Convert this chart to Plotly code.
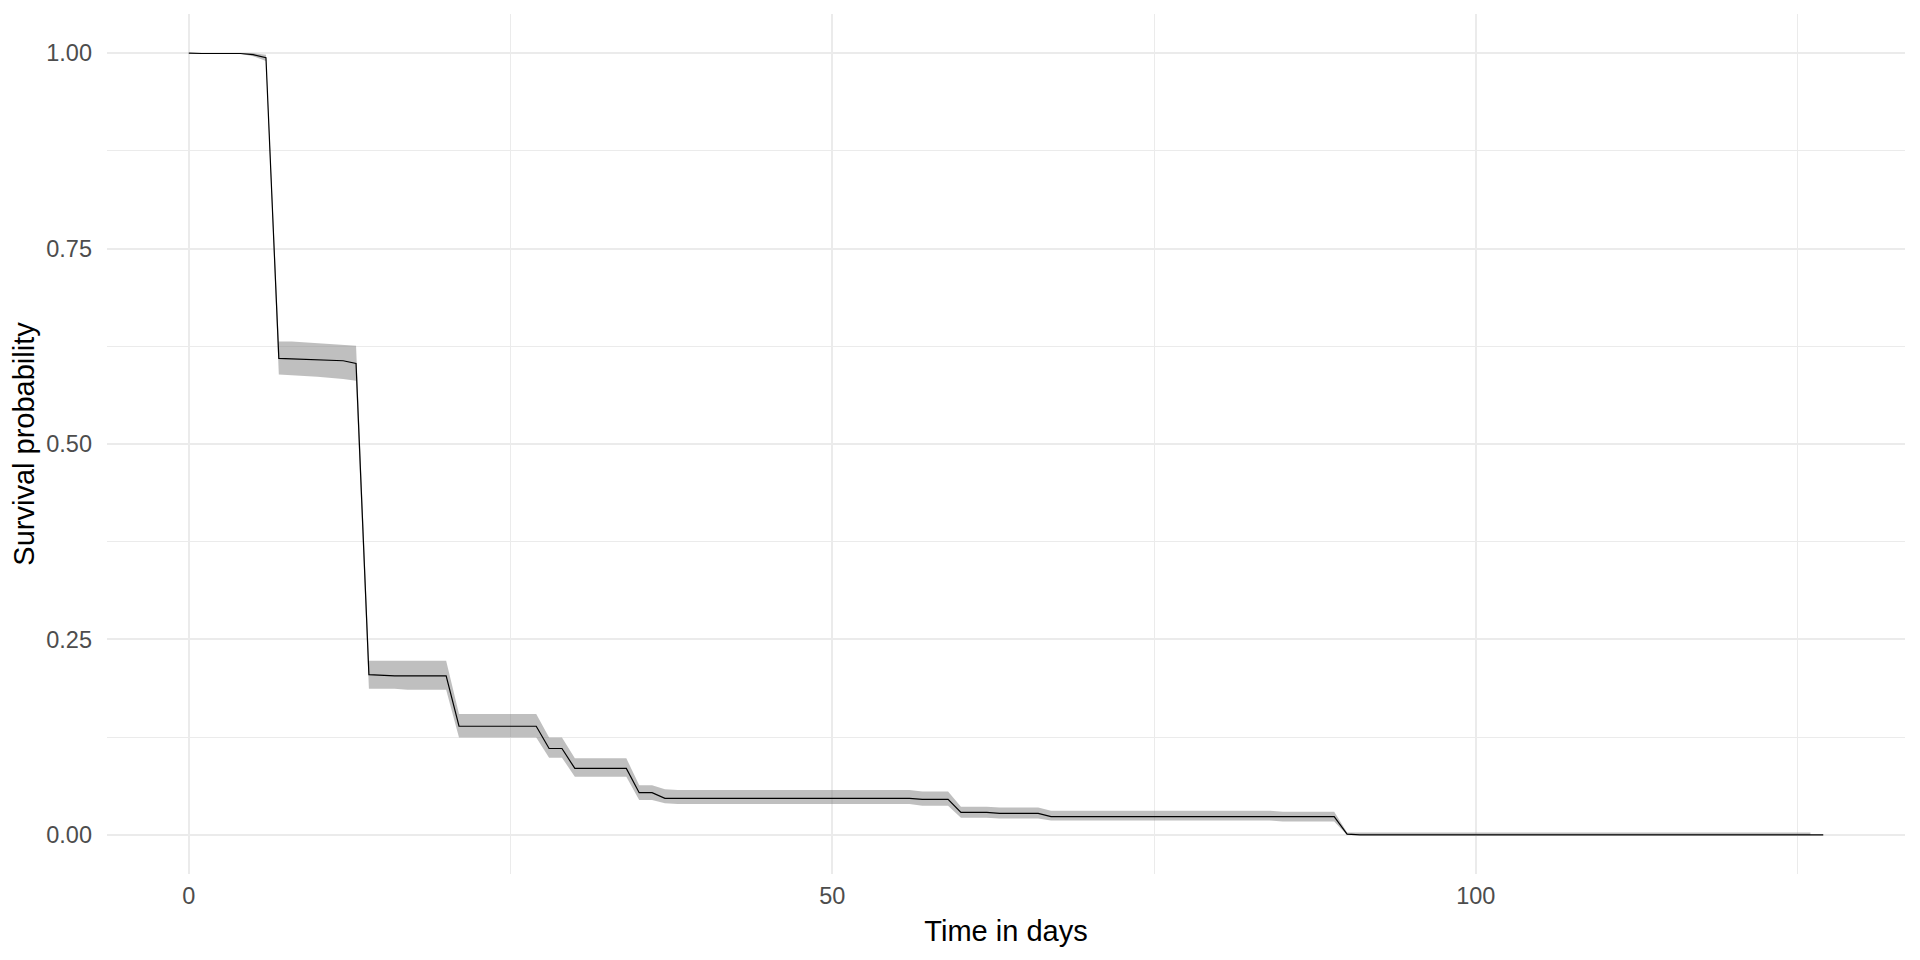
import plotly.graph_objects as go

# survival curve (days, probability)
time = [0, 1, 4, 5, 6, 7, 8, 10, 12, 13, 14, 16, 20, 21, 27, 28, 29, 30, 34, 35, 36, 37,
        56, 57, 59, 60, 62, 63, 66, 67, 89, 90, 91, 127]
surv = [1.000, 0.9995, 0.9995, 0.998, 0.994, 0.6095, 0.609, 0.608, 0.6065, 0.603,
        0.205, 0.2035, 0.2035, 0.139, 0.139, 0.1105, 0.1105, 0.085, 0.085, 0.054, 0.054,
        0.0467, 0.0467, 0.0455, 0.0455, 0.0288, 0.0288, 0.0275, 0.0275, 0.0233, 0.0233,
        0.001, 0.0, 0.0]

# confidence band
band_time = [0, 4, 5, 6, 7, 8, 10, 12, 13, 14, 16, 17, 20, 21, 27, 28, 29, 30, 34, 35, 36,
             37, 38, 56, 57, 59, 60, 62, 63, 66, 67, 84, 85, 89, 90, 126]
upper = [1.000, 1.000, 1.000, 0.998, 0.631, 0.631, 0.629, 0.627, 0.6257, 0.2228, 0.2228,
         0.2228, 0.2228, 0.1545, 0.1545, 0.1245, 0.1245, 0.098, 0.098, 0.0636, 0.0636,
         0.0583, 0.0575, 0.0575, 0.0554, 0.0554, 0.036, 0.036, 0.035, 0.035, 0.031, 0.031,
         0.0297, 0.0297, 0.003, 0.003]
lower = [1.000, 0.999, 0.996, 0.990, 0.589, 0.588, 0.586, 0.583, 0.581, 0.187, 0.187,
         0.1857, 0.1857, 0.1245, 0.1245, 0.0988, 0.0988, 0.0743, 0.0743, 0.0448, 0.0448,
         0.0405, 0.0395, 0.0395, 0.0374, 0.0374, 0.022, 0.022, 0.021, 0.021, 0.0185, 0.0185,
         0.017, 0.017, 0.0, 0.0]

x_ticks = [0, 50, 100]
y_ticks = [0, 0.25, 0.5, 0.75, 1.0]
y_labels = ["0.00", "0.25", "0.50", "0.75", "1.00"]

FONT = "Arial, Liberation Sans, sans-serif"
GRID = "#EBEBEB"

fig = go.Figure()
fig.add_trace(go.Scatter(x=band_time, y=lower, mode="lines", line=dict(width=0),
                         showlegend=False, hoverinfo="skip"))
fig.add_trace(go.Scatter(x=band_time, y=upper, mode="lines", line=dict(width=0),
                         fill="tonexty", fillcolor="rgba(127,127,127,0.5)",
                         showlegend=False, hoverinfo="skip"))
fig.add_trace(go.Scatter(x=time, y=surv, mode="lines",
                         line=dict(color="black", width=1.2), showlegend=False))

# page body has an 8px margin, so margins are shifted to land the panel in place
fig.update_layout(
    width=1920, height=960,
    margin=dict(l=99, r=23, t=5.6, b=94.4),
    plot_bgcolor="white", paper_bgcolor="white",
    font=dict(family=FONT, color="black"),
    xaxis=dict(
        range=[-6.35, 133.35], tickvals=x_ticks, ticks="", showline=False, zeroline=False,
        showgrid=True, gridcolor=GRID, gridwidth=2,
        minor=dict(tickvals=[25, 75, 125], showgrid=True, gridcolor=GRID, gridwidth=1),
        tickfont=dict(size=23.5, color="#4D4D4D"), ticklabelstandoff=5,
        title=dict(text="Time in days", font=dict(size=29, color="black"), standoff=13),
        automargin=False,
    ),
    yaxis=dict(
        range=[-0.05, 1.05], tickvals=y_ticks, ticktext=y_labels, ticks="",
        showline=False, zeroline=False,
        showgrid=True, gridcolor=GRID, gridwidth=2,
        minor=dict(tickvals=[0.125, 0.375, 0.625, 0.875], showgrid=True,
                   gridcolor=GRID, gridwidth=1),
        tickfont=dict(size=23.5, color="#4D4D4D"), ticklabelstandoff=14,
        title=dict(text="Survival probability", font=dict(size=29, color="black"), standoff=5),
        automargin=False,
    ),
)

fig.write_html("out.html")
